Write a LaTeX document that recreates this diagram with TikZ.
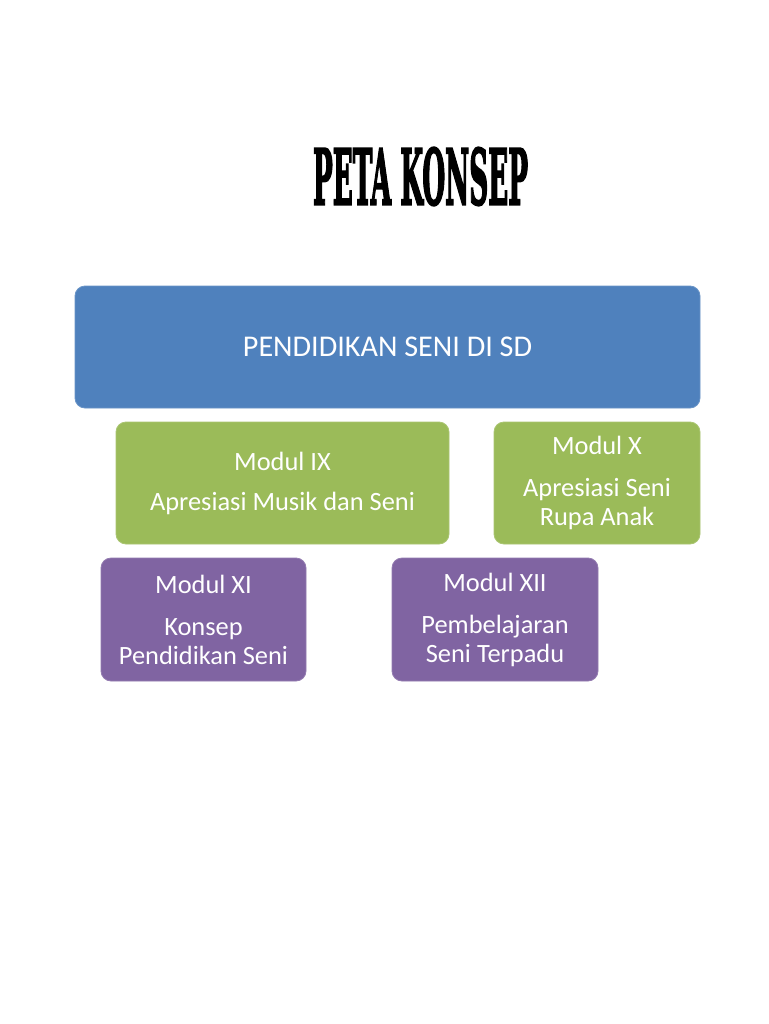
\documentclass[tikz,border=0pt]{standalone}
\usepackage{fontspec}
\usepackage{graphicx}
\setmainfont{Carlito}
\newfontfamily\titlefont[FakeBold=3]{DejaVu Serif Condensed Bold}
\definecolor{ofblue}{HTML}{4F81BD}
\definecolor{ofgreen}{HTML}{9BBB59}
\definecolor{ofpurple}{HTML}{8064A2}
\begin{document}
\begin{tikzpicture}[x=0.75pt,y=-0.75pt,
  card/.style={rounded corners=7.5pt, inner sep=0pt, align=center, text=white,
    font=\fontsize{19.8}{21.75}\selectfont, minimum height=91.5pt},
  bluecard/.style={card, fill=ofblue, draw=ofblue!85!white, line width=0.6pt,
    font=\fontsize{22.6}{26}\selectfont},
  greencard/.style={card, fill=ofgreen, draw=ofgreen!85!white, line width=0.6pt},
  purplecard/.style={card, fill=ofpurple, draw=ofpurple!85!white, line width=0.6pt, minimum height=92.25pt}]
\fill[white] (0,0) rectangle (768,1024);
\useasboundingbox (0,0) rectangle (768,1024);
\node (title) at (420.5,176.5) {\resizebox{161.25pt}{42.75pt}{\titlefont PETA KONSEP}};
\node[bluecard, minimum width=468.75pt] (root) at (387.5,347) {PENDIDIKAN SENI DI SD};
\node[greencard, minimum width=249.75pt] (m9) at (282.5,483) {Modul IX\\[8.25pt]Apresiasi Musik dan Seni};
\node[greencard, minimum width=154.5pt] (m10) at (597,483) {Modul X\\[9.75pt]Apresiasi Seni\\Rupa Anak};
\node[purplecard, minimum width=153.75pt] (m11) at (203.5,619.5) {Modul XI\\[9.75pt]Konsep\\Pendidikan Seni};
\node[purplecard, minimum width=154.5pt] (m12) at (495,619.5) {Modul XII\\[9.75pt]Pembelajaran\\Seni Terpadu};
\end{tikzpicture}
\end{document}
